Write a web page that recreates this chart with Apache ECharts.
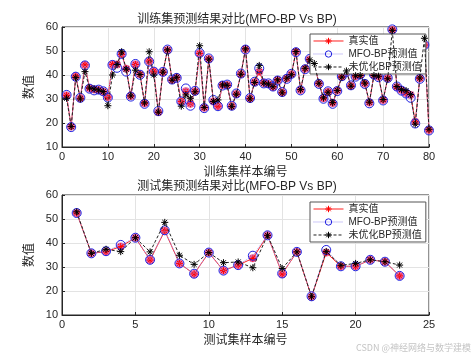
<!DOCTYPE html>
<html><head><meta charset="utf-8">
<script src="https://cdn.jsdelivr.net/npm/echarts@6/dist/echarts.min.js"></script>
<style>html,body{margin:0;padding:0;background:#fff}#c{width:474px;height:355px}</style>
</head><body><div id="c"></div>
<script>
// ---- data ----
const seriesNames = ['真实值', 'MFO-BP预测值', '未优化BP预测值'];
const trainTrue = [31.5,18.5,39.5,30.3,44.2,34.5,34.0,33.8,33.0,30.8,44.4,44.4,48.6,42.6,31.2,44.4,40.3,28.2,45.8,41.6,
  24.5,41.1,50.4,37.9,39.0,29.0,33.2,28.0,33.2,49.0,26.4,46.7,29.0,27.0,35.8,35.8,27.0,32.1,40.4,50.8,
  30.2,37.0,41.4,36.7,36.3,35.0,37.9,32.7,38.6,40.3,49.7,33.8,42.6,46.5,45.0,36.5,30.3,33.0,28.3,33.5,
  39.3,41.5,35.5,39.5,40.0,36.5,28.5,40.0,39.3,29.6,38.6,58.8,35.0,33.7,32.5,31.7,20.5,38.6,52.5,17.1];
const trainMFO = [31.7,18.3,39.3,30.5,44.0,34.3,33.6,33.9,33.2,30.6,44.2,43.0,48.8,41.4,31.0,44.6,40.1,28.0,45.6,41.4,
  25.0,41.3,50.6,38.1,38.8,29.0,34.4,27.2,33.4,49.2,26.2,46.9,29.6,27.0,35.6,36.0,27.2,32.3,40.6,50.6,
  30.4,37.2,42.8,36.5,36.5,35.2,37.7,32.9,38.4,40.5,49.5,33.6,42.4,46.7,45.2,36.3,30.1,33.2,28.0,33.3,
  39.5,41.3,35.7,39.3,40.2,36.3,28.2,40.2,39.1,29.4,38.8,59.0,35.2,33.5,32.3,30.5,19.8,38.4,52.5,16.9];
const trainBP = [30.3,18.5,38.9,30.0,41.4,34.6,34.2,33.7,33.1,27.2,40.0,44.4,49.7,42.4,31.3,42.0,40.2,28.4,49.7,40.0,
  24.5,41.2,50.5,37.8,39.1,27.0,31.7,30.3,33.0,52.2,26.5,46.6,29.0,29.6,35.9,35.7,26.8,32.0,40.3,50.9,
  30.0,36.9,44.0,36.6,36.2,35.1,38.0,32.5,38.7,40.1,49.8,33.9,42.8,46.3,44.8,36.6,30.5,32.8,28.5,33.6,
  39.1,41.7,35.3,39.7,39.8,36.7,28.7,39.8,39.5,29.8,38.4,58.6,35.2,33.9,33.5,31.9,19.5,38.8,55.3,17.4];
const testTrue = [52.5,35.7,36.4,38.5,42.2,32.9,45.1,31.5,27.1,36.0,28.5,30.8,33.6,43.2,27.1,36.3,17.6,36.0,30.3,30.3,33.0,32.2,26.3];
const testMFO  = [52.5,35.7,36.6,39.2,42.2,33.0,45.3,31.5,27.2,36.0,28.5,30.8,34.7,43.2,27.3,36.3,17.8,37.1,30.3,30.3,33.0,32.2,26.3];
const testBP   = [53.0,35.7,37.4,36.4,42.2,36.3,48.6,34.9,31.1,36.0,31.8,32.1,29.7,43.2,29.4,36.3,17.6,36.5,30.7,31.5,33.0,32.2,30.8];
const titles = ['训练集预测结果对比(MFO-BP Vs BP)', '测试集预测结果对比(MFO-BP Vs BP)'];
const xNames = ['训练集样本编号', '测试集样本编号'];
const yName = '数值';
const xMax = [80, 25], xInterval = [10, 5];

// ---- chart ----
const pairs = a => a.map((v, i) => [i + 1, v]);
const ast = 'path://M5,0L5,10M0,5L10,5M1.5,1.5L8.5,8.5M1.5,8.5L8.5,1.5';
const txt = '#262626';
const styles = [
  {symbol: ast, size: 7, line: {color: '#ff2020', width: 1, type: 'solid'}, item: {color: 'rgba(0,0,0,0)', borderColor: '#ff0000', borderWidth: 1}},
  {symbol: 'circle', size: 9, line: {color: '#9a8ff0', width: 1, type: 'dotted'}, item: {color: 'rgba(0,0,0,0)', borderColor: '#2020e0', borderWidth: 1}},
  {symbol: ast, size: 7, line: {color: '#202020', width: 1, type: [3, 2]}, item: {color: 'rgba(0,0,0,0)', borderColor: '#000', borderWidth: 1}}
];
const grids = [{left: 62, right: 45, top: 27, height: 120}, {left: 62, right: 45, top: 195, height: 120}];
const xAxes = [], yAxes = [], series = [], legends = [];
[[trainTrue, trainMFO, trainBP], [testTrue, testMFO, testBP]].forEach((set, g) => {
  grids[g].show = true; grids[g].borderColor = txt; grids[g].borderWidth = 1; grids[g].backgroundColor = '#fff';
  xAxes.push({type: 'value', gridIndex: g, min: 0, max: xMax[g], interval: xInterval[g],
    name: xNames[g], nameLocation: 'middle', nameGap: 18,
    nameTextStyle: {color: txt, fontSize: 12, fontFamily: 'Noto Sans CJK SC'},
    axisLine: {lineStyle: {color: txt}}, axisTick: {inside: true, length: 3, lineStyle: {color: txt}},
    axisLabel: {color: txt, fontSize: 11, margin: 4, fontFamily: 'Liberation Sans'},
    splitLine: {show: true, lineStyle: {color: '#e3e3e3'}}});
  yAxes.push({type: 'value', gridIndex: g, min: 10, max: 60, interval: 10,
    name: yName, nameLocation: 'middle', nameGap: 21, nameRotate: 90,
    nameTextStyle: {color: txt, fontSize: 12, fontFamily: 'Noto Sans CJK SC'},
    axisLine: {show: true, lineStyle: {color: txt}}, axisTick: {show: true, inside: true, length: 3, lineStyle: {color: txt}},
    axisLabel: {color: txt, fontSize: 11, margin: 4, fontFamily: 'Liberation Sans'},
    splitLine: {show: true, lineStyle: {color: '#e3e3e3'}}});
  // pinkish blob fill under markers
  series.push({name: 'fill' + g, type: 'line', xAxisIndex: g, yAxisIndex: g, data: pairs(set[0]),
    symbol: 'circle', symbolSize: 8, showSymbol: true, showAllSymbol: true, lineStyle: {width: 0, opacity: 0},
    itemStyle: {color: '#e0509a', opacity: 0.85}, z: 1, silent: true});
  set.forEach((arr, k) => {
    series.push({name: seriesNames[k], type: 'line', xAxisIndex: g, yAxisIndex: g, data: pairs(arr),
      symbol: styles[k].symbol, symbolSize: styles[k].size, showSymbol: true, showAllSymbol: true,
      lineStyle: styles[k].line, itemStyle: styles[k].item, z: 2 + k});
  });
  legends.push({orient: 'vertical', left: 310, top: g === 0 ? 34 : 202,
    data: seriesNames.map((n, k) => ({name: n, itemStyle: styles[k].item, lineStyle: styles[k].line})),
    itemWidth: 30, itemHeight: 8, itemGap: 3, padding: [2, 4, 2, 3],
    backgroundColor: '#fff', borderColor: '#555', borderWidth: 1,
    textStyle: {color: txt, fontSize: 10, fontFamily: 'Liberation Sans, Noto Sans CJK SC'}, selectedMode: false});
});
const chart = echarts.init(document.getElementById('c'));
chart.setOption({
  animation: false,
  grid: grids, xAxis: xAxes, yAxis: yAxes, series: series, legend: legends,
  title: [
    {text: titles[0], left: 'center', top: 14, padding: 0, textStyle: {color: txt, fontSize: 12, fontWeight: 'normal', fontFamily: 'Liberation Sans, Noto Sans CJK SC'}},
    {text: titles[1], left: 'center', top: 181, padding: 0, textStyle: {color: txt, fontSize: 12, fontWeight: 'normal', fontFamily: 'Liberation Sans, Noto Sans CJK SC'}}
  ],
  graphic: [{type: 'text', right: 3, bottom: 3, style: {text: 'CSDN @神经网络与数学建模', fill: '#c4c4c4', font: '9px "Noto Sans CJK SC"'}}]
});
</script></body></html>
